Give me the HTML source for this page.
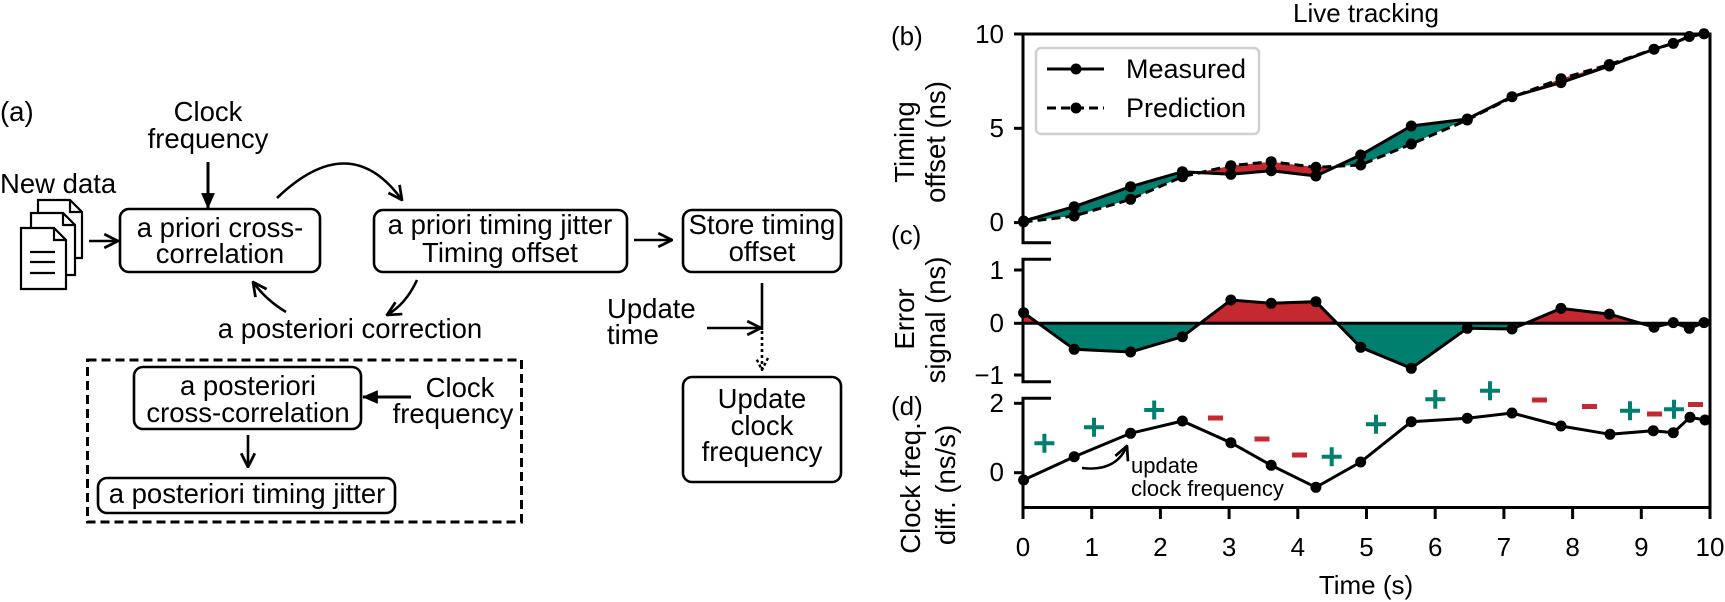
<!DOCTYPE html>
<html><head><meta charset="utf-8"><style>
html,body{margin:0;padding:0;background:#fff;}
svg{display:block;font-family:"Liberation Sans",Arial,sans-serif;}
</style></head><body>
<svg width="1725" height="602" viewBox="0 0 1725 602" xmlns="http://www.w3.org/2000/svg">
<defs>
<marker id="oa" viewBox="0 0 14 14" refX="13" refY="7" markerWidth="16" markerHeight="16" markerUnits="userSpaceOnUse" orient="auto"><path d="M1,1 L13,7 L1,13" fill="none" stroke="#000" stroke-width="2.4"/></marker>
<marker id="fa" viewBox="0 0 14 14" refX="13" refY="7" markerWidth="16" markerHeight="16" markerUnits="userSpaceOnUse" orient="auto"><path d="M0,1 L14,7 L0,13 Z" fill="#000"/></marker>
<marker id="da" viewBox="0 0 14 14" refX="13" refY="7" markerWidth="14" markerHeight="14" markerUnits="userSpaceOnUse" orient="auto"><path d="M1,1 L13,7 L1,13" fill="none" stroke="#000" stroke-width="2.4" stroke-dasharray="3 2.5"/></marker>
<clipPath id="up"><rect x="1000" y="240" width="720" height="83.3"/></clipPath>
<clipPath id="dn"><rect x="1000" y="323.3" width="720" height="70"/></clipPath>
</defs>

<!-- ===== Panel (a) ===== -->
<g font-size="27.5" fill="#000">
<text x="0" y="121">(a)</text>
<text x="208" y="121" text-anchor="middle">Clock</text>
<text x="208" y="148" text-anchor="middle">frequency</text>
<text x="0" y="193">New data</text>
</g>
<line x1="208" y1="162" x2="208" y2="208" stroke="#000" stroke-width="3" marker-end="url(#fa)"/>
<g fill="#fff" stroke="#000" stroke-width="2.2">
<path d="M38,200 L70,200 L82,212 L82,258 L38,258 Z"/><path d="M70,200 L70,212 L82,212" fill="none"/>
<path d="M31,213 L63,213 L75,225 L75,275 L31,275 Z"/><path d="M63,213 L63,225 L75,225" fill="none"/>
<path d="M21,228 L54,228 L66,240 L66,289 L21,289 Z"/><path d="M54,228 L54,240 L66,240" fill="none"/>
<line x1="30" y1="252" x2="55" y2="252"/><line x1="30" y1="262" x2="55" y2="262"/><line x1="30" y1="273" x2="55" y2="273"/>
</g>
<line x1="89" y1="241" x2="118" y2="241" stroke="#000" stroke-width="2.4" marker-end="url(#oa)"/>
<g fill="none" stroke="#000" stroke-width="2.6">
<rect x="120" y="209" width="200" height="63" rx="9"/>
<rect x="374" y="210" width="253" height="62" rx="9"/>
<rect x="683" y="210" width="158" height="62" rx="9"/>
<rect x="683" y="377" width="158" height="105" rx="9"/>
<rect x="134" y="367" width="227" height="62" rx="9"/>
<rect x="98" y="478" width="297" height="35" rx="9"/>
<rect x="87.5" y="360" width="434" height="162" stroke-dasharray="9 5" stroke-width="3"/>
</g>
<g font-size="27.5" fill="#000" text-anchor="middle">
<text x="220" y="237">a priori cross-</text>
<text x="220" y="263">correlation</text>
<text x="500" y="234">a priori timing jitter</text>
<text x="500" y="262">Timing offset</text>
<text x="762" y="234">Store timing</text>
<text x="762" y="261">offset</text>
<text x="762" y="408">Update</text>
<text x="762" y="435">clock</text>
<text x="762" y="461">frequency</text>
<text x="350" y="338">a posteriori correction</text>
<text x="248" y="395">a posteriori</text>
<text x="248" y="422">cross-correlation</text>
<text x="247" y="503">a posteriori timing jitter</text>
<text x="460" y="397">Clock</text>
<text x="453" y="423">frequency</text>
</g>
<g font-size="27.5" fill="#000">
<text x="607" y="318">Update</text>
<text x="607" y="344">time</text>
</g>
<g fill="none" stroke="#000" stroke-width="2.6">
<path d="M277,198 Q350,128 402,200" marker-end="url(#oa)"/>
<path d="M417,280 Q406,304 387,315" marker-end="url(#oa)"/>
<path d="M286,312 Q266,300 253,282" marker-end="url(#oa)"/>
<line x1="634" y1="240" x2="672" y2="240" marker-end="url(#oa)"/>
<line x1="762" y1="283" x2="762" y2="330"/>
<line x1="707" y1="328" x2="761" y2="328" marker-end="url(#oa)"/>
<line x1="762" y1="331" x2="762" y2="370" stroke-dasharray="3 3" marker-end="url(#da)"/>
<line x1="411" y1="397" x2="363" y2="397" stroke-width="3" marker-end="url(#fa)"/>
<line x1="248" y1="435" x2="248" y2="467" marker-end="url(#oa)"/>
</g>

<!-- ===== Right plots ===== -->
<g font-size="26" fill="#000">
<text x="1366" y="22" text-anchor="middle">Live tracking</text>
<text x="891" y="45">(b)</text>
<text x="891" y="244">(c)</text>
<text x="891" y="415">(d)</text>
</g>
<g font-size="27.5" fill="#000" text-anchor="middle">
<text transform="translate(914,142) rotate(-90)">Timing</text>
<text transform="translate(945,142) rotate(-90)">offset (ns)</text>
<text transform="translate(914,319) rotate(-90)">Error</text>
<text transform="translate(945,320) rotate(-90)">signal (ns)</text>
<text transform="translate(920,488) rotate(-90)">Clock freq.</text>
<text transform="translate(955,485) rotate(-90)">diff. (ns/s)</text>
</g>
<g stroke="#000" stroke-width="3" fill="none">
<path d="M1014,34 L1710,34 L1710,507.5 L1023,507.5"/>
<path d="M1023,34 L1023,242.7 L1051,242.7"/>
<path d="M1051,259.3 L1023,259.3 L1023,381.7 L1051,381.7"/>
<path d="M1051,398.3 L1023,398.3 L1023,519"/>
<line x1="1014" y1="128.3" x2="1023" y2="128.3"/>
<line x1="1014" y1="222.6" x2="1023" y2="222.6"/>
<line x1="1014" y1="270" x2="1023" y2="270"/>
<line x1="1014" y1="323.3" x2="1023" y2="323.3"/>
<line x1="1014" y1="375" x2="1023" y2="375"/>
<line x1="1014" y1="403.3" x2="1023" y2="403.3"/>
<line x1="1014" y1="472.7" x2="1023" y2="472.7"/>
<line x1="1091.7" y1="507.5" x2="1091.7" y2="519"/>
<line x1="1160.4" y1="507.5" x2="1160.4" y2="519"/>
<line x1="1229.1" y1="507.5" x2="1229.1" y2="519"/>
<line x1="1297.8" y1="507.5" x2="1297.8" y2="519"/>
<line x1="1366.5" y1="507.5" x2="1366.5" y2="519"/>
<line x1="1435.2" y1="507.5" x2="1435.2" y2="519"/>
<line x1="1503.9" y1="507.5" x2="1503.9" y2="519"/>
<line x1="1572.6" y1="507.5" x2="1572.6" y2="519"/>
<line x1="1641.3" y1="507.5" x2="1641.3" y2="519"/>
<line x1="1710" y1="507.5" x2="1710" y2="519"/>
</g>
<g font-size="26" fill="#000" text-anchor="end">
<text x="1004" y="43">10</text>
<text x="1004" y="137">5</text>
<text x="1004" y="231">0</text>
<text x="1004" y="279">1</text>
<text x="1004" y="332">0</text>
<text x="1004" y="384">−1</text>
<text x="1004" y="412">2</text>
<text x="1004" y="481">0</text>
</g>
<g font-size="26" fill="#000" text-anchor="middle">
<text x="1023" y="556">0</text><text x="1091.7" y="556">1</text><text x="1160.4" y="556">2</text>
<text x="1229.1" y="556">3</text><text x="1297.8" y="556">4</text><text x="1366.5" y="556">5</text>
<text x="1435.2" y="556">6</text><text x="1503.9" y="556">7</text><text x="1572.6" y="556">8</text>
<text x="1641.3" y="556">9</text><text x="1710" y="556">10</text>
<text x="1366" y="594">Time (s)</text>
</g>

<g stroke="none">
<polygon fill="#007f6e" points="1023.6,221 1074.2,206.7 1130.6,186.7 1182.4,171.7 1190,174 1182.4,176.7 1130.6,199.3 1074.2,216"/>
<polygon fill="#c62830" points="1190,174 1230.9,174.3 1271.2,170.7 1315.9,176 1336,166 1315.9,167.3 1271.2,161.7 1230.9,165.7"/>
<polygon fill="#007f6e" points="1336,166 1360.7,155 1411.3,126 1467.3,119 1411.3,144 1360.7,165"/>
<polygon fill="#c62830" points="1512,97 1561,82.6 1609.3,66 1609.3,64.5 1561,78.7 1512,97"/>
</g>
<g fill="none" stroke="#000" stroke-width="3">
<polyline stroke-dasharray="9 5" points="1023.6,222 1074.2,216 1130.6,199.3 1182.4,176.7 1230.9,165.7 1271.2,161.7 1315.9,167.3 1360.7,165 1411.3,144 1467.3,120 1512,97.3 1561,78.7 1609.3,64.5 1654,49.2 1673.3,43.4 1689.3,36.5 1704,33.8"/>
<polyline points="1023.6,221 1074.2,206.7 1130.6,186.7 1182.4,171.7 1230.9,174.3 1271.2,170.7 1315.9,176 1360.7,155 1411.3,126 1467.3,119 1512,96.7 1561,82.6 1609.3,66 1654,49.2 1673.3,43.4 1689.3,36.5 1704,33.8"/>
</g>
<g fill="#000">
<circle cx="1023.6" cy="222" r="5.5"/><circle cx="1074.2" cy="216" r="5.5"/><circle cx="1130.6" cy="199.3" r="5.5"/><circle cx="1182.4" cy="176.7" r="5.5"/><circle cx="1230.9" cy="165.7" r="5.5"/><circle cx="1271.2" cy="161.7" r="5.5"/><circle cx="1315.9" cy="167.3" r="5.5"/><circle cx="1360.7" cy="165" r="5.5"/><circle cx="1411.3" cy="144" r="5.5"/><circle cx="1467.3" cy="120" r="5.5"/><circle cx="1561" cy="78.7" r="5.5"/><circle cx="1609.3" cy="64.5" r="5.5"/>
<circle cx="1023.6" cy="221" r="5.5"/><circle cx="1074.2" cy="206.7" r="5.5"/><circle cx="1130.6" cy="186.7" r="5.5"/><circle cx="1182.4" cy="171.7" r="5.5"/><circle cx="1230.9" cy="174.3" r="5.5"/><circle cx="1271.2" cy="170.7" r="5.5"/><circle cx="1315.9" cy="176" r="5.5"/><circle cx="1360.7" cy="155" r="5.5"/><circle cx="1411.3" cy="126" r="5.5"/><circle cx="1467.3" cy="119" r="5.5"/><circle cx="1512" cy="96.7" r="5.5"/><circle cx="1561" cy="82.6" r="5.5"/><circle cx="1609.3" cy="66" r="5.5"/><circle cx="1654" cy="49.2" r="5.5"/><circle cx="1673.3" cy="43.4" r="5.5"/><circle cx="1689.3" cy="36.5" r="5.5"/><circle cx="1704" cy="33.8" r="5.5"/>
</g>
<rect x="1036" y="48" width="223" height="86" rx="5" fill="#fff" fill-opacity="0.85" stroke="#d0d0d0" stroke-width="2.5"/>
<line x1="1047" y1="69" x2="1104" y2="69" stroke="#000" stroke-width="3"/>
<circle cx="1076" cy="69" r="5.5"/>
<line x1="1047" y1="108" x2="1104" y2="108" stroke="#000" stroke-width="3" stroke-dasharray="9 5"/>
<circle cx="1076" cy="108" r="5.5"/>
<g font-size="27" fill="#000"><text x="1126" y="78">Measured</text><text x="1126" y="117">Prediction</text></g>

<g>
<polygon clip-path="url(#up)" fill="#c62830" points="1023.6,323.3 1023.6,312.7 1074.2,349.3 1130.6,352 1182.4,336.7 1230.9,300 1271.2,303.3 1315.9,301.7 1360.7,347.3 1411.3,368.3 1467.3,328.3 1512,329 1561,308.4 1609.3,314.1 1654,327.2 1673.3,322.6 1689.3,328.3 1704,322.6 1704,323.3"/>
<polygon clip-path="url(#dn)" fill="#007f6e" points="1023.6,323.3 1023.6,312.7 1074.2,349.3 1130.6,352 1182.4,336.7 1230.9,300 1271.2,303.3 1315.9,301.7 1360.7,347.3 1411.3,368.3 1467.3,328.3 1512,329 1561,308.4 1609.3,314.1 1654,327.2 1673.3,322.6 1689.3,328.3 1704,322.6 1704,323.3"/>
</g>
<line x1="1023" y1="323.3" x2="1710" y2="323.3" stroke="#000" stroke-width="3"/>
<polyline fill="none" stroke="#000" stroke-width="3" points="1023.6,312.7 1074.2,349.3 1130.6,352 1182.4,336.7 1230.9,300 1271.2,303.3 1315.9,301.7 1360.7,347.3 1411.3,368.3 1467.3,328.3 1512,329 1561,308.4 1609.3,314.1 1654,327.2 1673.3,322.6 1689.3,328.3 1704,322.6"/>
<g fill="#000">
<circle cx="1023.6" cy="312.7" r="5.5"/><circle cx="1074.2" cy="349.3" r="5.5"/><circle cx="1130.6" cy="352" r="5.5"/><circle cx="1182.4" cy="336.7" r="5.5"/><circle cx="1230.9" cy="300" r="5.5"/><circle cx="1271.2" cy="303.3" r="5.5"/><circle cx="1315.9" cy="301.7" r="5.5"/><circle cx="1360.7" cy="347.3" r="5.5"/><circle cx="1411.3" cy="368.3" r="5.5"/><circle cx="1467.3" cy="328.3" r="5.5"/><circle cx="1512" cy="329" r="5.5"/><circle cx="1561" cy="308.4" r="5.5"/><circle cx="1609.3" cy="314.1" r="5.5"/><circle cx="1654" cy="327.2" r="5.5"/><circle cx="1673.3" cy="322.6" r="5.5"/><circle cx="1689.3" cy="328.3" r="5.5"/><circle cx="1704" cy="322.6" r="5.5"/>
</g>

<polyline fill="none" stroke="#000" stroke-width="3" points="1023.6,480 1074.2,456.7 1130.6,433.3 1182.4,421 1230.9,442.7 1271.2,465.3 1315.9,487.3 1360.7,462 1411.3,421.7 1467.3,418.3 1512,413 1561,426 1610,434.3 1653.3,430.7 1673.3,432.7 1690,417.3 1705,420"/>
<g fill="#000">
<circle cx="1023.6" cy="480" r="5.5"/><circle cx="1074.2" cy="456.7" r="5.5"/><circle cx="1130.6" cy="433.3" r="5.5"/><circle cx="1182.4" cy="421" r="5.5"/><circle cx="1230.9" cy="442.7" r="5.5"/><circle cx="1271.2" cy="465.3" r="5.5"/><circle cx="1315.9" cy="487.3" r="5.5"/><circle cx="1360.7" cy="462" r="5.5"/><circle cx="1411.3" cy="421.7" r="5.5"/><circle cx="1467.3" cy="418.3" r="5.5"/><circle cx="1512" cy="413" r="5.5"/><circle cx="1561" cy="426" r="5.5"/><circle cx="1610" cy="434.3" r="5.5"/><circle cx="1653.3" cy="430.7" r="5.5"/><circle cx="1673.3" cy="432.7" r="5.5"/><circle cx="1690" cy="417.3" r="5.5"/><circle cx="1705" cy="420" r="5.5"/>
</g>
<g stroke="#007f6e" stroke-width="4" fill="none">
<path d="M1034.4,443.3h20M1044.4,433.8v19"/>
<path d="M1084,427.3h20M1094,417.8v19"/>
<path d="M1144.2,410h20M1154.2,400.5v19"/>
<path d="M1321.7,456.7h20M1331.7,447.2v19"/>
<path d="M1366,424.3h20M1376,414.8v19"/>
<path d="M1425.3,399.3h20M1435.3,389.8v19"/>
<path d="M1480,390.7h20M1490,381.2v19"/>
<path d="M1620,410.7h20M1630,401.2v19"/>
<path d="M1664,409.3h20M1674,399.8v19"/>
</g>
<g fill="#c62830">
<rect x="1208" y="415.5" width="15" height="5"/>
<rect x="1254.5" y="436.5" width="15" height="5"/>
<rect x="1292" y="452.5" width="15" height="5"/>
<rect x="1532" y="397.5" width="15" height="5"/>
<rect x="1582" y="404" width="15" height="5"/>
<rect x="1647" y="411.5" width="15" height="5"/>
<rect x="1688" y="402" width="15" height="5"/>
</g>
<path d="M1082,468 Q1116,472 1127,446" fill="none" stroke="#000" stroke-width="2.4" marker-end="url(#oa)"/>
<g font-size="22" fill="#000"><text x="1131" y="473">update</text><text x="1131" y="496">clock frequency</text></g>
</svg>
</body></html>
